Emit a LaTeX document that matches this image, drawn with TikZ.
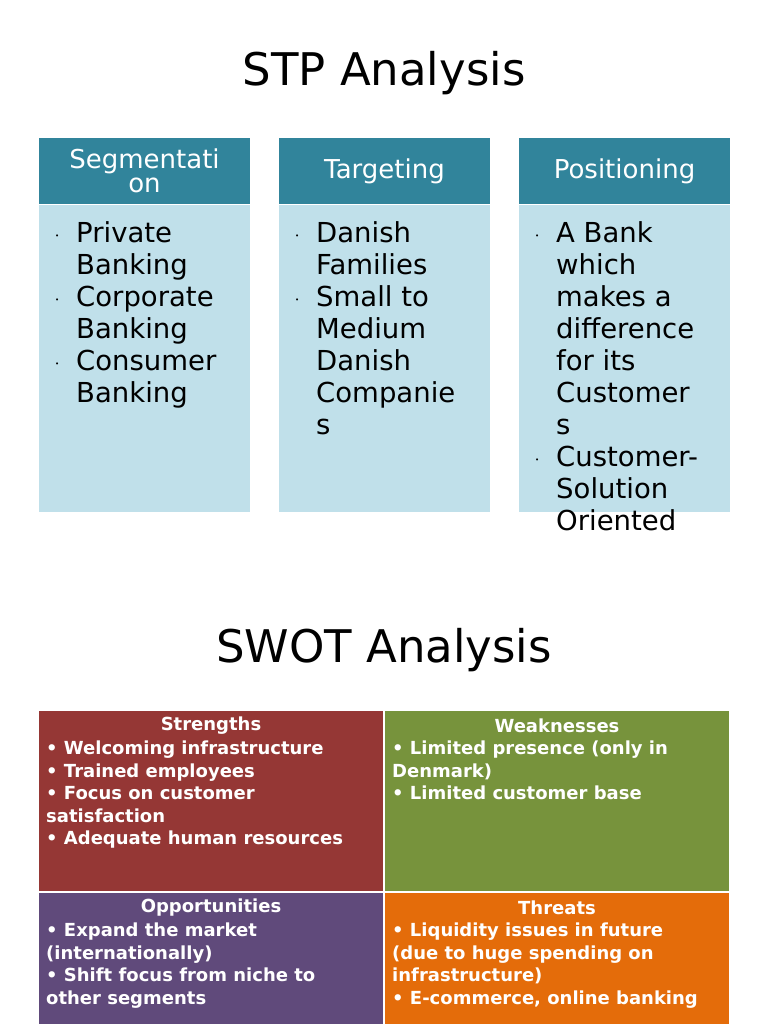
\documentclass[tikz,border=0pt]{standalone}
\usepackage{fontspec}
\setmainfont{DejaVu Sans}
\definecolor{hdr}{HTML}{31849B}
\definecolor{bdy}{HTML}{C0E0EA}
\definecolor{cS}{HTML}{953735}
\definecolor{cW}{HTML}{77933C}
\definecolor{cO}{HTML}{604A7B}
\definecolor{cT}{HTML}{E46C0A}
\tikzset{
 ttl/.style={font=\fontsize{45}{50}\selectfont},
 hbox/.style={fill=hdr,draw=white,line width=1pt,text=white,font=\fontsize{26}{28}\selectfont,align=center},
 bbox/.style={fill=bdy,draw=white,line width=1pt},
 btxt/.style={anchor=north west,align=left,inner sep=0pt,font=\fontsize{27.5}{32}\selectfont},
 swbox/.style={draw=white,line width=1.5pt},
 swh/.style={text=white,font=\bfseries\fontsize{18}{22.5}\selectfont},
 swt/.style={anchor=north west,align=left,inner sep=0pt,text=white,font=\bfseries\fontsize{18}{22.5}\selectfont},
}
\newcommand{\bl}{\makebox[21pt][l]{\raisebox{4pt}{\scriptsize\textbullet}}}
\begin{document}
\begin{tikzpicture}[x=1pt,y=-1pt]
\useasboundingbox (0,0) rectangle (768,1024);
\fill[white] (0,0) rectangle (768,1024);
\node[ttl] (t1) at (384,73) {STP Analysis};
% STP boxes
\foreach \i/\x in {1/38,2/278,3/518}{
 \draw[bbox] (\x,204) rectangle (\x+212,512);
}
\node[hbox,minimum width=212pt,minimum height=67pt,anchor=north west] (h1) at (38,137) {Segmentati\\[-4pt]on};
\node[hbox,minimum width=212pt,minimum height=67pt,anchor=north west] (h2) at (278,137) {Targeting};
\node[hbox,minimum width=212pt,minimum height=67pt,anchor=north west] (h3) at (518,137) {Positioning};
\node[btxt] (b1) at (55,221) {\bl Private\\\hspace*{21pt}Banking\\\bl Corporate\\\hspace*{21pt}Banking\\\bl Consumer\\\hspace*{21pt}Banking};
\node[btxt] (b2) at (295,221) {\bl Danish\\\hspace*{21pt}Families\\\bl Small to\\\hspace*{21pt}Medium\\\hspace*{21pt}Danish\\\hspace*{21pt}Companie\\\hspace*{21pt}s};
\node[btxt] (b3) at (535,221) {\bl A Bank\\\hspace*{21pt}which\\\hspace*{21pt}makes a\\\hspace*{21pt}difference\\\hspace*{21pt}for its\\\hspace*{21pt}Customer\\\hspace*{21pt}s\\\bl Customer-\\\hspace*{21pt}Solution\\\hspace*{21pt}Oriented};
\node[ttl] (t2) at (384,650) {SWOT Analysis};
% SWOT
\draw[swbox,fill=cS] (38,710) rectangle (384,892);
\draw[swbox,fill=cW] (384,710) rectangle (730,892);
\draw[swbox,fill=cO] (38,892) rectangle (384,1030);
\draw[swbox,fill=cT] (384,892) rectangle (730,1030);
\node[swh] (sh) at (211,726) {Strengths};
\node[swh] (wh) at (557,726) {Weaknesses};
\node[swh] (oh) at (211,908) {Opportunities};
\node[swh] (th) at (557,908) {Threats};
\node[swt] (st) at (46,741) {• Welcoming infrastructure\\• Trained employees\\• Focus on customer\\satisfaction\\• Adequate human resources};
\node[swt] (wt) at (392,741) {• Limited presence (only in\\Denmark)\\• Limited customer base};
\node[swt] (ot) at (46,923) {• Expand the market\\(internationally)\\• Shift focus from niche to\\other segments};
\node[swt] (tt) at (392,923) {• Liquidity issues in future\\(due to huge spending on\\infrastructure)\\• E-commerce, online banking};
\end{tikzpicture}
\end{document}
